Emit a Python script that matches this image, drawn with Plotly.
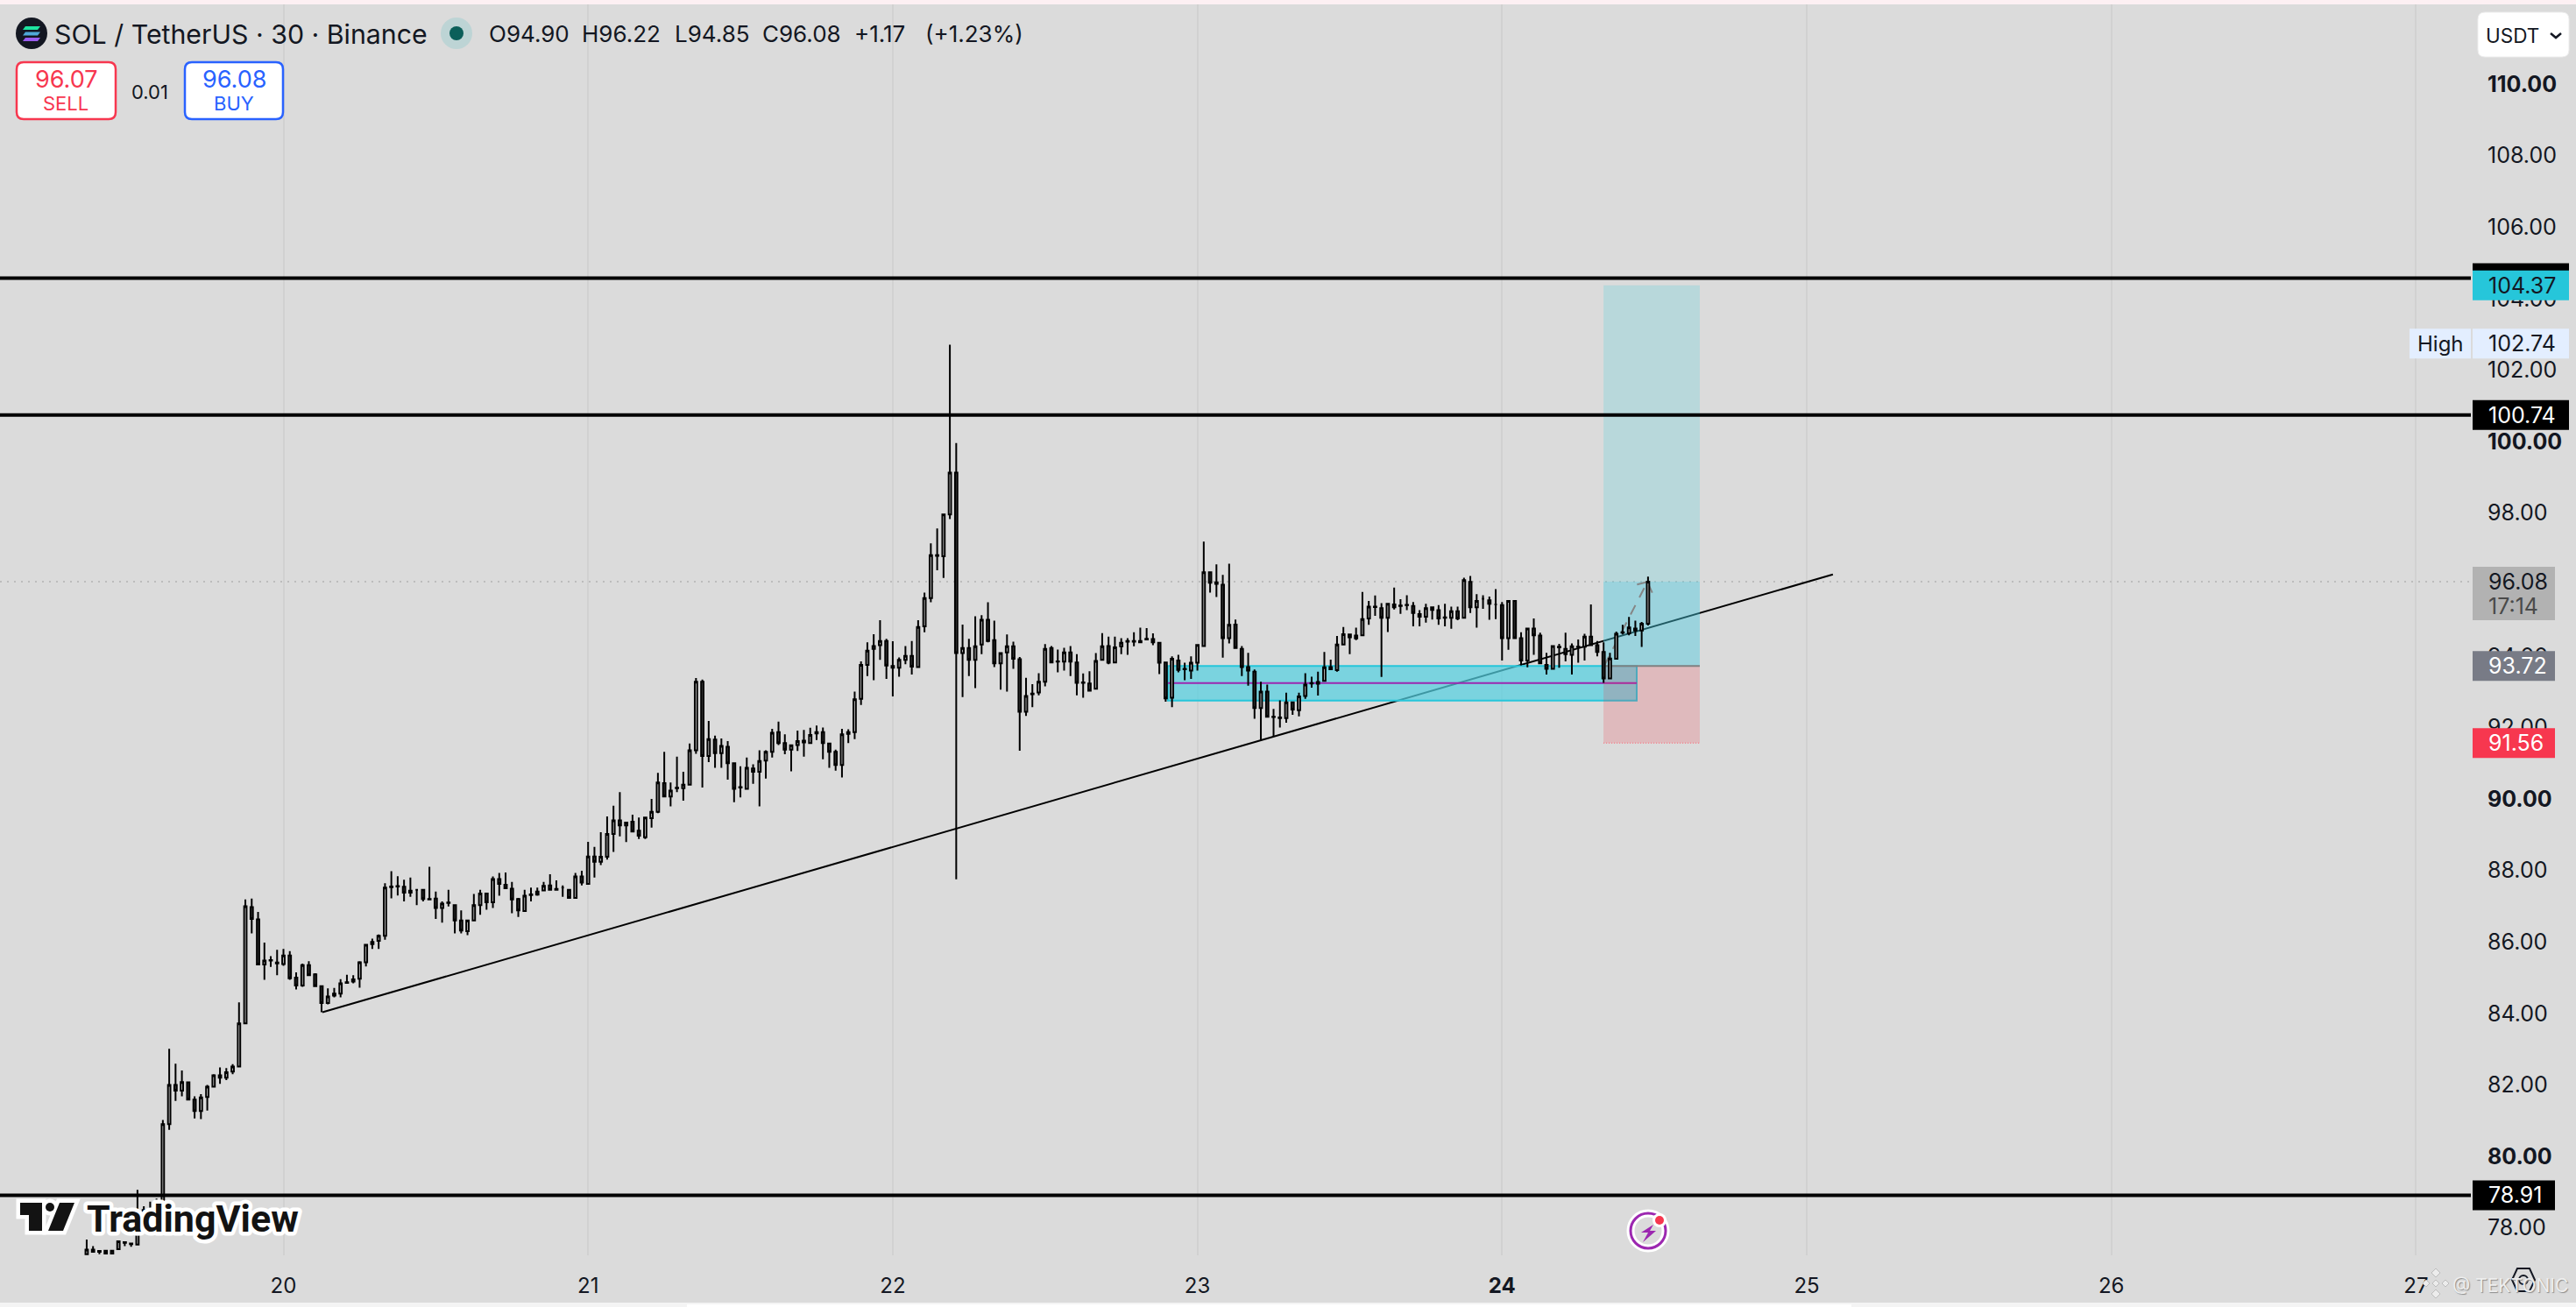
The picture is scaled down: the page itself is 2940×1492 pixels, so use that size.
import plotly.graph_objects as go

W, H = 2940, 1492
BG = "#dbdbdb"
INK = "#131722"
FONT = "Inter"

# values, 30 minute bars, x is day of the month
first_day = 19 + 17 / 48
opens = [
    77.26, 77.39, 77.35, 77.36, 77.28, 77.40, 77.60, 77.56, 77.53, 78.40, 78.50, 78.45, 78.60, 80.90, 82.00, 81.84,
    82.07, 81.59, 81.27, 81.66, 81.95, 82.27, 82.20, 82.37, 82.51, 83.72, 86.97, 86.63, 85.37, 85.48, 85.42, 85.38,
    85.62, 85.00, 84.78, 85.35, 85.09, 84.76, 84.29, 84.55, 84.55, 84.87, 84.95, 84.97, 85.43, 85.94, 86.03, 86.17,
    87.53, 87.55, 87.54, 87.43, 87.46, 87.46, 87.20, 87.21, 86.95, 87.09, 87.03, 86.60, 86.30, 86.60, 87.03, 87.35,
    87.11, 87.76, 87.60, 87.49, 87.20, 86.86, 87.31, 87.41, 87.44, 87.58, 87.48, 87.52, 87.46, 87.23, 87.83, 87.62,
    88.39, 88.24, 88.38, 89.02, 89.40, 89.26, 89.36, 89.11, 88.93, 89.46, 89.64, 90.44, 90.07, 90.30, 90.30, 90.40,
    91.36, 93.28, 91.20, 91.66, 91.28, 91.46, 91.00, 90.32, 90.28, 90.85, 90.76, 91.07, 91.32, 91.87, 91.56, 91.38,
    91.51, 91.63, 91.56, 91.87, 91.87, 91.55, 91.32, 90.95, 91.82, 91.87, 92.80, 93.75, 94.20, 94.30, 94.42, 93.72,
    93.67, 93.89, 94.00, 93.69, 94.83, 95.62, 96.82, 96.79, 97.96, 99.13, 94.08, 94.22, 93.89, 94.32, 95.01, 94.44,
    93.79, 94.10, 94.27, 93.91, 92.44, 92.93, 92.98, 93.28, 94.22, 93.84, 93.84, 94.10, 93.82, 93.25, 93.23, 93.08,
    93.89, 94.28, 93.82, 94.27, 94.40, 94.42, 94.42, 94.48, 94.47, 94.37, 93.82, 92.83, 93.87, 93.63, 93.59, 93.81,
    94.28, 96.34, 96.06, 95.99, 94.50, 94.88, 94.20, 93.69, 93.56, 92.54, 93.00, 92.30, 92.28, 92.26, 92.70, 92.48,
    92.88, 93.24, 93.27, 93.30, 93.69, 93.60, 94.32, 94.60, 94.57, 94.58, 95.05, 95.37, 95.34, 95.07, 95.44, 95.40,
    95.43, 95.40, 95.17, 95.10, 95.36, 95.28, 95.07, 95.07, 95.25, 95.07, 96.07, 95.36, 95.60, 95.56, 95.44, 95.42,
    94.50, 95.54, 94.50, 93.87, 94.77, 94.57, 93.75, 93.64, 94.26, 94.20, 94.03, 94.25, 94.26, 94.54, 94.30, 94.11,
    93.37, 93.92, 94.65, 94.63, 94.77, 94.71, 94.90,
]
highs = [
    77.67, 77.49, 77.35, 77.37, 77.37, 77.63, 77.60, 77.56, 79.06, 78.60, 78.73, 78.82, 81.02, 83.01, 82.59, 82.40,
    82.08, 81.68, 81.74, 82.00, 82.30, 82.49, 82.47, 82.58, 84.31, 87.19, 87.21, 86.84, 85.98, 85.60, 85.78, 85.80,
    85.74, 85.15, 85.39, 85.46, 85.12, 84.78, 84.70, 84.71, 84.96, 85.08, 85.07, 85.46, 85.94, 86.09, 86.21, 87.64,
    87.98, 87.84, 87.74, 87.80, 87.48, 87.48, 88.10, 87.41, 87.13, 87.46, 87.03, 86.88, 86.62, 87.34, 87.46, 87.35,
    87.83, 87.93, 87.94, 87.68, 87.23, 87.46, 87.52, 87.52, 87.68, 87.89, 87.72, 87.58, 87.48, 87.93, 87.99, 88.80,
    88.66, 89.07, 89.51, 89.81, 90.19, 89.36, 89.56, 89.48, 89.48, 90.00, 90.73, 91.32, 90.46, 91.18, 90.76, 91.55,
    93.38, 93.34, 92.18, 91.77, 91.69, 91.62, 91.02, 90.91, 91.16, 90.97, 91.36, 91.36, 91.96, 92.16, 91.81, 91.52,
    91.91, 91.93, 91.99, 92.05, 92.00, 91.57, 91.38, 91.96, 91.95, 93.00, 93.85, 94.38, 94.61, 95.00, 94.48, 94.41,
    93.96, 94.28, 94.42, 95.00, 95.77, 97.15, 97.57, 97.98, 102.71, 99.96, 94.88, 94.48, 95.11, 95.14, 95.50, 94.99,
    94.10, 94.60, 94.40, 93.97, 93.39, 93.21, 93.52, 94.33, 94.28, 94.18, 94.23, 94.28, 94.05, 93.51, 93.57, 94.08,
    94.64, 94.54, 94.54, 94.50, 94.50, 94.66, 94.79, 94.78, 94.63, 94.38, 93.84, 93.99, 94.03, 93.81, 93.99, 94.31,
    97.20, 96.36, 96.56, 96.27, 96.58, 95.02, 94.28, 94.09, 93.62, 93.28, 93.20, 92.52, 92.76, 92.97, 92.72, 92.97,
    93.52, 93.42, 93.56, 94.11, 93.90, 94.56, 94.81, 94.62, 94.79, 95.79, 95.54, 95.69, 95.48, 95.48, 95.91, 95.59,
    95.70, 95.51, 95.28, 95.46, 95.38, 95.42, 95.46, 95.38, 95.38, 96.19, 96.24, 95.73, 95.70, 95.66, 95.87, 95.51,
    95.56, 95.56, 94.66, 94.79, 95.05, 94.65, 94.09, 94.30, 94.34, 94.65, 94.35, 94.46, 94.62, 95.44, 94.42, 94.38,
    94.09, 94.68, 94.87, 95.09, 94.99, 94.95, 96.22,
]
lows = [
    77.24, 77.32, 77.26, 77.27, 77.27, 77.39, 77.49, 77.47, 77.52, 78.30, 78.30, 78.30, 78.50, 80.74, 81.55, 81.68,
    81.58, 81.06, 81.04, 81.28, 81.95, 82.03, 82.13, 82.30, 82.49, 83.72, 86.24, 85.37, 84.94, 85.30, 85.07, 85.33,
    84.94, 84.67, 84.74, 85.07, 84.74, 84.03, 84.25, 84.45, 84.45, 84.85, 84.84, 84.72, 85.31, 85.80, 85.80, 86.06,
    87.22, 87.30, 87.13, 87.26, 87.03, 87.13, 87.17, 86.64, 86.54, 86.99, 86.24, 86.24, 86.19, 86.60, 86.76, 86.90,
    86.95, 87.29, 87.50, 86.80, 86.70, 86.86, 87.13, 87.29, 87.43, 87.46, 87.46, 87.26, 87.21, 87.23, 87.58, 87.60,
    87.80, 88.15, 88.30, 88.52, 88.95, 88.79, 89.09, 88.88, 88.88, 89.20, 89.60, 90.04, 89.79, 90.19, 89.95, 90.38,
    91.26, 90.32, 91.03, 90.87, 90.87, 90.54, 89.91, 90.04, 90.26, 90.42, 89.79, 90.57, 91.16, 91.51, 91.25, 90.77,
    91.34, 91.18, 91.54, 91.65, 91.11, 90.87, 90.79, 90.60, 91.56, 91.67, 92.63, 93.44, 93.32, 93.89, 93.36, 92.87,
    93.42, 93.77, 93.48, 93.69, 94.66, 95.50, 96.40, 96.18, 97.83, 87.75, 92.85, 93.44, 93.10, 94.05, 94.38, 93.69,
    93.06, 93.00, 93.64, 91.35, 92.32, 92.57, 92.90, 93.15, 93.82, 93.54, 93.59, 93.44, 92.90, 92.83, 93.00, 93.06,
    93.87, 93.77, 93.80, 94.05, 94.03, 94.27, 94.38, 94.44, 94.30, 93.49, 92.72, 92.57, 93.54, 93.32, 93.36, 93.59,
    94.28, 95.77, 95.65, 93.95, 94.35, 94.20, 93.44, 93.17, 92.24, 91.62, 92.30, 91.75, 92.00, 92.13, 92.35, 92.31,
    92.80, 93.11, 92.89, 93.30, 93.60, 93.56, 94.32, 94.05, 94.44, 94.58, 94.87, 95.12, 93.41, 94.67, 95.30, 95.18,
    95.28, 94.83, 94.83, 94.93, 95.02, 94.87, 94.83, 94.76, 95.00, 95.07, 95.20, 94.79, 95.32, 95.01, 95.03, 93.87,
    94.17, 94.48, 93.74, 93.68, 94.03, 93.79, 93.48, 93.64, 93.67, 93.85, 93.48, 93.81, 93.87, 94.28, 93.99, 93.25,
    93.37, 93.92, 94.60, 94.58, 94.56, 94.25, 94.85,
]
closes = [
    77.39, 77.33, 77.33, 77.28, 77.36, 77.62, 77.58, 77.54, 78.40, 78.50, 78.45, 78.60, 80.90, 82.00, 81.84, 82.08,
    81.59, 81.27, 81.65, 81.95, 82.27, 82.20, 82.35, 82.51, 83.72, 87.00, 86.64, 85.37, 85.48, 85.49, 85.40, 85.62,
    84.98, 84.78, 85.35, 85.07, 84.76, 84.29, 84.47, 84.50, 84.84, 84.85, 84.89, 85.43, 85.92, 86.00, 86.17, 87.52,
    87.55, 87.56, 87.38, 87.38, 87.46, 87.20, 87.19, 86.95, 87.07, 87.10, 86.60, 86.32, 86.60, 87.03, 87.35, 87.11,
    87.76, 87.62, 87.50, 87.19, 86.88, 87.29, 87.33, 87.32, 87.57, 87.46, 87.46, 87.52, 87.23, 87.83, 87.66, 88.39,
    88.24, 88.38, 89.02, 89.40, 89.26, 89.34, 89.09, 88.97, 89.48, 89.64, 90.46, 90.07, 90.23, 90.31, 90.40, 91.36,
    93.28, 91.20, 91.67, 91.28, 91.48, 91.00, 90.28, 90.33, 90.87, 90.76, 91.06, 91.32, 91.85, 91.56, 91.38, 91.50,
    91.62, 91.58, 91.79, 91.83, 91.56, 91.32, 90.95, 91.81, 91.87, 92.79, 93.75, 94.15, 94.28, 94.42, 93.73, 93.67,
    93.89, 94.00, 93.70, 94.81, 95.62, 96.82, 96.80, 97.96, 99.13, 94.08, 94.22, 93.89, 94.27, 95.01, 94.42, 93.79,
    94.08, 94.27, 93.92, 92.44, 92.88, 92.95, 93.28, 94.20, 93.82, 93.85, 94.10, 93.84, 93.25, 93.26, 93.03, 93.86,
    94.27, 93.81, 94.24, 94.37, 94.42, 94.40, 94.38, 94.46, 94.38, 93.81, 92.81, 93.92, 93.61, 93.64, 93.81, 94.31,
    96.34, 96.05, 96.02, 94.50, 94.87, 94.22, 93.69, 93.59, 92.54, 93.00, 92.30, 92.29, 92.26, 92.70, 92.50, 92.87,
    93.20, 93.23, 93.22, 93.68, 93.63, 94.32, 94.61, 94.52, 94.49, 95.03, 95.38, 95.38, 95.07, 95.46, 95.36, 95.41,
    95.42, 95.20, 95.10, 95.34, 95.29, 95.05, 95.08, 95.25, 95.05, 96.12, 95.36, 95.54, 95.60, 95.46, 95.44, 94.50,
    95.54, 94.50, 93.87, 94.77, 94.58, 93.79, 93.64, 94.28, 94.24, 94.05, 94.27, 94.26, 94.54, 94.30, 94.11, 93.37,
    93.93, 94.62, 94.66, 94.80, 94.71, 94.90, 96.08,
]
assert len(opens) == len(highs) == len(lows) == len(closes)
bar_days = [first_day + i / 48 for i in range(len(closes))]

day_ticks = [20, 21, 22, 23, 24, 25, 26, 27]
day_labels = ["20", "21", "22", "23", "<b>24</b>", "25", "26", "27"]
price_ticks = [78, 80, 82, 84, 86, 88, 90, 92, 94, 96, 98, 100, 102, 104, 106, 108, 110]
price_labels = ["78.00", "<b>80.00</b>", "82.00", "84.00", "86.00", "88.00", "<b>90.00</b>", "92.00", "94.00",
                "96.00", "98.00", "<b>100.00</b>", "102.00", "104.00", "106.00", "108.00", "<b>110.00</b>"]

level_lines = [104.57, 100.74, 78.91]
last_price = 96.08
entry_price = 93.72
target_price = 104.37
stop_price = 91.56
trend_days = [20.128, 25.086]
trend_prices = [84.03, 96.28]
zone_days = [22.903, 24.442]
zone_prices = [92.75, 93.24, 93.72]
position_days = [24.333, 24.649]
day_range = [20 - 323.5 / 347.7, 20 + 2496.5 / 347.7]


def px(x):
    return x / W


def py(y):
    return 1 - y / H


def path_px(points, close=True):
    d = "M" + " L".join(f"{px(x):.5f},{py(y):.5f}" for x, y in points)
    return d + (" Z" if close else "")


def rounded(x0, y0, x1, y1, r):
    # corners approximated with a quadratic curve, paper coordinates
    return (f"M{px(x0 + r):.5f},{py(y0):.5f} L{px(x1 - r):.5f},{py(y0):.5f} Q{px(x1):.5f},{py(y0):.5f} {px(x1):.5f},{py(y0 + r):.5f} "
            f"L{px(x1):.5f},{py(y1 - r):.5f} Q{px(x1):.5f},{py(y1):.5f} {px(x1 - r):.5f},{py(y1):.5f} "
            f"L{px(x0 + r):.5f},{py(y1):.5f} Q{px(x0):.5f},{py(y1):.5f} {px(x0):.5f},{py(y1 - r):.5f} "
            f"L{px(x0):.5f},{py(y0 + r):.5f} Q{px(x0):.5f},{py(y0):.5f} {px(x0 + r):.5f},{py(y0):.5f} Z")


def paper_shape(**kw):
    return dict(xref="paper", yref="paper", layer="above", **kw)


def paper_rect(x0, y0, x1, y1, fill, line=None, width=0):
    return paper_shape(type="rect", x0=px(x0), x1=px(x1), y0=py(y1), y1=py(y0), fillcolor=fill,
                       line=dict(color=line or fill, width=width))


def paper_circle(cx, cy, r, fill, line=None, width=0):
    return paper_shape(type="circle", x0=px(cx - r), x1=px(cx + r), y0=py(cy + r), y1=py(cy - r), fillcolor=fill,
                       line=dict(color=line or fill, width=width))


def paper_path(d, fill="rgba(0,0,0,0)", line=None, width=0):
    return paper_shape(type="path", path=d, fillcolor=fill, line=dict(color=line or fill, width=width))


def text_px(x, y, text, size, color=INK, anchor="left", **font):
    font.setdefault("family", FONT)
    return dict(x=px(x), y=py(y), xref="paper", yref="paper", text=text, showarrow=False, xanchor=anchor,
                yanchor="middle", font=dict(size=size, color=color, **font))


fig = go.Figure()
fig.add_trace(go.Candlestick(
    x=bar_days, open=opens, high=highs, low=lows, close=closes,
    increasing=dict(fillcolor="#d9d9d9", line=dict(color="black", width=2)),
    decreasing=dict(fillcolor="#3c3c3c", line=dict(color="black", width=2)),
    whiskerwidth=0, showlegend=False,
))

shapes = []

# drawings between gridlines and candles
shapes.append(dict(type="line", xref="x", yref="y", x0=day_range[0], x1=day_range[1], y0=last_price, y1=last_price, layer="between",
                   line=dict(color="#bcbcbc", width=2, dash="2px,6px")))
shapes.append(dict(type="line", xref="x", yref="y", x0=trend_days[0], x1=trend_days[1], y0=trend_prices[0], y1=trend_prices[1],
                   layer="between", line=dict(color="black", width=2)))
shapes.append(dict(type="rect", xref="x", yref="y", x0=zone_days[0], x1=zone_days[1], y0=zone_prices[0], y1=zone_prices[2],
                   layer="between", fillcolor="rgba(85,208,224,0.72)", line=dict(color="#26c6da", width=2)))
shapes.append(dict(type="line", xref="x", yref="y", x0=zone_days[0], x1=zone_days[1], y0=zone_prices[1], y1=zone_prices[1],
                   layer="between", line=dict(color="#9c27b0", width=2)))

# long position box
for y0, y1, fill in [(entry_price, target_price, "rgba(103,210,217,0.3)"),
                     (entry_price, last_price, "rgba(40,195,230,0.2)"),
                     (stop_price, entry_price, "rgba(242,54,69,0.2)")]:
    shapes.append(dict(type="rect", xref="x", yref="y", x0=position_days[0], x1=position_days[1], y0=y0, y1=y1,
                       layer="between", fillcolor=fill, line=dict(width=0)))
shapes.append(dict(type="line", xref="x", yref="y", x0=position_days[0], x1=position_days[1], y0=entry_price, y1=entry_price,
                   layer="between", line=dict(color="#808080", width=2)))
shapes.append(dict(type="line", xref="x", yref="y", x0=position_days[0], x1=position_days[1], y0=stop_price, y1=stop_price,
                   layer="between", line=dict(color="#f2848f", width=1.5, dash="1px,2px")))
for x0, y0, x1, y1 in [(24.335, 93.72, 24.477, 96.07), (24.443, 96.0, 24.477, 96.07), (24.493, 95.77, 24.477, 96.07)]:
    shapes.append(dict(type="line", xref="x", yref="y", x0=x0, x1=x1, y0=y0, y1=y1, layer="between",
                       line=dict(color="#858585", width=2, dash="12px,10px" if x1 - x0 > 0.1 else "solid")))

# horizontal levels reach the price scale
for level in level_lines:
    shapes.append(dict(type="line", xref="x domain", yref="y", x0=0, x1=1, y0=level, y1=level, layer="above",
                       line=dict(color="black", width=4)))

annotations = []

# price scale labels
unit = 40.8
price_tags = [
    (104.57, "", "black", "white", 2932),
    (target_price, "104.37", "#26c6da", INK, 2932),
    (102.74, "102.74", "#e3eeff", INK, 2932),
    (100.74, "100.74", "black", "white", 2932),
    (entry_price, "93.72", "#787b86", "white", 2916),
    (stop_price, "91.56", "#f7374f", "white", 2916),
    (78.91, "78.91", "black", "white", 2916),
]
for price, label, fill, color, right in price_tags:
    shapes.append(dict(type="rect", xref="paper", yref="y", x0=px(2822), x1=px(right), y0=price - 17 / unit, y1=price + 17 / unit,
                       layer="above", fillcolor=fill, line=dict(width=0)))
    if label:
        annotations.append(dict(x=px(2838), y=price, xref="paper", yref="y", text=label, showarrow=False, xanchor="left",
                                yanchor="middle", font=dict(family=FONT, size=25, color=color)))
shapes.append(dict(type="rect", xref="paper", yref="y", x0=px(2750), x1=px(2820), y0=102.74 - 17 / unit, y1=102.74 + 17 / unit,
                   layer="above", fillcolor="#e3eeff", line=dict(width=0)))
annotations.append(dict(x=px(2785), y=102.74, xref="paper", yref="y", text="High", showarrow=False, xanchor="center",
                        yanchor="middle", font=dict(family=FONT, size=24, color=INK)))
shapes.append(dict(type="rect", xref="paper", yref="y", x0=px(2822), x1=px(2916), y0=last_price - 44 / unit, y1=last_price + 17 / unit,
                   layer="above", fillcolor="#b2b2b2", line=dict(width=0)))
annotations.append(dict(x=px(2838), y=last_price, xref="paper", yref="y", text="96.08", showarrow=False, xanchor="left",
                        yanchor="middle", font=dict(family=FONT, size=25, color=INK)))
annotations.append(dict(x=px(2838), y=last_price - 28 / unit, xref="paper", yref="y", text="17:14", showarrow=False, xanchor="left",
                        yanchor="middle", font=dict(family=FONT, size=25, color="#4a4a4a")))

# page edges
shapes.append(paper_rect(0, 0, W, 5, "#fdf0f3"))
shapes.append(paper_rect(0, 1487, W, H, "#f4f4f4"))
shapes.append(paper_rect(784, 1489, 2113, H, "white"))

# header
shapes.append(paper_circle(36, 38, 18, "#131722"))
for i, color in enumerate(["#1ee3a0", "#4fa8d8", "#9a5cf0"]):
    y = 30 + i * 6.5
    shapes.append(paper_path(path_px([(29, y), (46, y), (43, y + 4), (26, y + 4)]), fill=color))
annotations.append(text_px(60, 39, "SOL / TetherUS · 30 · Binance", 30.3))
shapes.append(paper_circle(521, 38, 18, "#bdd4d5"))
shapes.append(paper_circle(521, 38, 8, "#0b5f5a"))
for x, label in [(556, "O94.90"), (662, "H96.22"), (768, "L94.85"), (868, "C96.08"), (973, "+1.17"), (1054, "(+1.23%)")]:
    annotations.append(text_px(x, 39, label, 26))

# sell and buy
shapes.append(paper_path(rounded(19, 71, 132, 136, 8), fill="white", line="#f7374f", width=2.5))
shapes.append(paper_path(rounded(211, 71, 323, 136, 8), fill="white", line="#2962ff", width=2.5))
annotations.append(text_px(75, 91, "96.07", 27, "#f7374f", "center"))
annotations.append(text_px(75, 118, "SELL", 22, "#f7374f", "center"))
annotations.append(text_px(171, 105, "0.01", 22, INK, "center"))
annotations.append(text_px(267, 91, "96.08", 27, "#2962ff", "center"))
annotations.append(text_px(267, 118, "BUY", 22, "#2962ff", "center"))

# currency button
shapes.append(paper_path(rounded(2828, 14, 2932, 65, 8), fill="white", line="#ececec", width=1))
annotations.append(text_px(2835, 40, "USDT", 22.5))
shapes.append(paper_path(path_px([(2911, 38), (2917, 43), (2923, 38)], close=False), line=INK, width=2.5))

# TradingView mark with a white halo
tv_t = [(23, 1373), (48, 1373), (48, 1405), (33, 1405), (33, 1387), (23, 1387)]
tv_slash = [(68, 1373), (85, 1373), (72, 1405), (55, 1405)]
for part in (tv_t, tv_slash):
    shapes.append(paper_path(path_px(part), fill="white", line="white", width=9))
shapes.append(paper_circle(57, 1378, 5, "white", "white", 9))
for part in (tv_t, tv_slash):
    shapes.append(paper_path(path_px(part), fill="#131313"))
shapes.append(paper_circle(57, 1378, 5, "#131313"))
annotations.append(text_px(97, 1391, "<b>TradingView</b>", 43, "#131313", family="Roboto"))

# lightning event marker
shapes.append(paper_circle(1881, 1405, 20, "rgba(255,255,255,0)", "white", 9))
shapes.append(paper_circle(1881, 1405, 20, "rgba(255,255,255,0)", "#9c27b0", 3))
shapes.append(paper_circle(1894, 1393, 8, "white"))
shapes.append(paper_circle(1894, 1393, 5, "#f7374f"))
bolt = [(1887, 1398), (1873, 1407), (1881, 1407), (1875, 1418), (1890, 1405), (1883, 1405)]
shapes.append(paper_path(path_px(bolt), fill="#9c27b0"))

# settings icon and watermark
hexagon = [(2873, 1448), (2887, 1448), (2893, 1461), (2887, 1474), (2873, 1474), (2867, 1461)]
shapes.append(paper_path(path_px(hexagon), line=INK, width=2))
shapes.append(paper_circle(2880, 1461, 5, "rgba(0,0,0,0)", INK, 2))
for cx, cy, r in [(2780, 1453, 5), (2769, 1465, 4), (2791, 1465, 4), (2780, 1465, 4), (2780, 1477, 5)]:
    shapes.append(paper_path(path_px([(cx, cy - r), (cx + r, cy), (cx, cy + r), (cx - r, cy)]), fill="#ececec", line="#bdbdbd", width=1))
annotations.append(text_px(2797, 1467, "@ TEKTONIC", 21, "#eeeeee", shadow="1px 1px 1px #8c8c8c"))

price_top = 110 + 91 / unit
price_bottom = 110 - 1337 / unit

fig.update_layout(
    width=W, height=H,
    margin=dict(l=0, r=0, t=0, b=0, autoexpand=False),
    paper_bgcolor=BG, plot_bgcolor=BG,
    font=dict(family=FONT, color=INK),
    showlegend=False, boxgap=0.45,
    shapes=shapes, annotations=annotations,
    xaxis=dict(
        type="linear", domain=[0, 2820 / W], range=day_range,
        tickvals=day_ticks, ticktext=day_labels, tickfont=dict(size=24, color=INK, family=FONT),
        ticks="", ticklabelstandoff=18, showgrid=True, gridcolor="#d1d1d1", gridwidth=2,
        zeroline=False, showline=False, rangeslider=dict(visible=False), automargin=False,
    ),
    yaxis=dict(
        side="right", domain=[(H - 1433) / H, (H - 5) / H], range=[price_bottom, price_top],
        tickvals=price_ticks, ticktext=price_labels, tickfont=dict(size=25, color=INK, family=FONT),
        ticks="", ticklabelstandoff=18, showgrid=False, zeroline=False, showline=False, automargin=False,
    ),
)

# white outline round the TradingView wordmark, plotly has no text stroke option
halo_js = """
document.body.style.margin = '0';
setTimeout(function () {
  document.querySelectorAll('.annotation-text').forEach(function (t) {
    if (t.textContent === 'TradingView') {
      t.style.paintOrder = 'stroke';
      t.style.stroke = 'white';
      t.style.strokeWidth = '9px';
      t.style.strokeLinejoin = 'round';
    }
  });
}, 0);
"""
fig.write_html("out.html", post_script=halo_js, config=dict(displayModeBar=False))
